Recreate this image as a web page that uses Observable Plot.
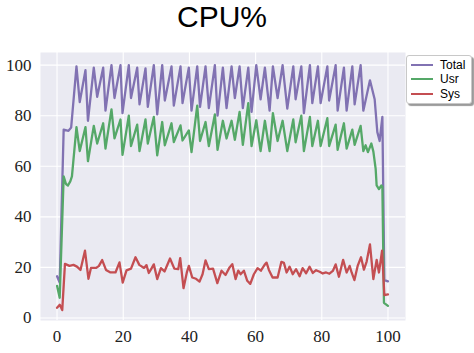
<!DOCTYPE html>
<html><head><meta charset="utf-8">
<script src="https://cdn.jsdelivr.net/npm/d3@7"></script>
<script src="https://cdn.jsdelivr.net/npm/@observablehq/plot@0.6"></script>
<style>
body{margin:0;background:#fff;}
#wrap{position:relative;width:474px;height:353px;overflow:hidden;}
#chart{position:absolute;left:0;top:0;}
#chart svg text{font-family:"Liberation Serif","DejaVu Serif",serif;}
#title{position:absolute;left:0;top:0;width:444px;text-align:center;font:30px "Liberation Sans",Arial,sans-serif;color:#000;}
#legend{position:absolute;left:406px;top:55px;width:64px;height:47px;background:#fff;border:1px solid #c8c8c8;border-radius:3px;box-shadow:2px 2px 1px #9a9a9a;font:12px "Liberation Sans",Arial,sans-serif;color:#000;}
.row{position:absolute;left:4px;height:14px;display:flex;align-items:center;}
.row svg{margin-right:7px;}
</style></head>
<body><div id="wrap"><div id="chart"></div><div id="title">CPU%</div><div id="legend"></div></div>
<script>
const seriesNames = ["Total", "Usr", "Sys"];
const seriesColors = ["#8172B2", "#55A868", "#C44E52"];
const xTicks = [0, 20, 40, 60, 80, 100];
const yTicks = [0, 20, 40, 60, 80, 100];

const totalX = [0,0.8,2.0,3.45,4.26,5.87,6.86,8.59,9.34,11.10,12.13,13.94,14.64,16.45,17.36,19.17,19.78,21.68,22.35,24.22,24.92,26.73,27.43,29.24,30.27,31.78,32.57,34.59,35.29,37.31,37.92,39.82,40.64,42.36,43.21,44.87,45.87,47.69,48.50,50.11,51.22,52.74,53.73,55.16,56.15,57.79,58.78,60.21,61.51,62.81,64.23,65.23,66.65,68.16,69.58,71.39,72.09,73.81,74.60,76.41,77.14,78.83,79.65,81.68,82.22,84.19,84.79,86.69,87.51,89.23,89.93,91.74,92.56,94.56,95.98,96.79,97.49,98.31,98.9,100];
const totalY = [16.5,14,74.5,74,75.3,99.5,85.4,98,78,99,87.5,99,82,100,87,100,81,100,87,99,84.5,98.7,83.5,100,80.5,100,86,99.5,84,99.5,85,99,82,99.5,83.5,99.5,83,100,80,99,83,99.5,87,99.5,83,99,81.5,100,86.5,99,82,99.5,87,100,82.8,99.5,86.5,99.5,81,100,85,99.5,85,99.5,86,100,82,99,82,99.5,84.5,100,82,94,86.5,73.5,70,79.5,15,14.5];

const usrX = [0,0.8,2.0,2.7,3.3,4.0,4.5,5.87,6.86,8.59,9.34,11.10,12.13,13.94,14.64,16.45,17.36,19.17,19.78,21.68,22.35,24.22,24.92,26.73,27.43,29.24,30.27,31.78,32.57,34.59,35.29,37.31,37.92,39.82,40.64,42.36,43.21,44.87,45.87,47.69,48.50,50.11,51.22,52.74,53.73,55.16,56.15,57.79,58.78,60.21,61.51,62.81,64.23,65.23,66.65,68.16,69.58,71.39,72.09,73.81,74.60,76.41,77.14,78.83,79.65,81.68,82.22,84.19,84.79,86.69,87.51,89.23,89.93,91.74,92.56,93.26,93.95,94.98,95.59,96.28,96.58,97.28,98.0,98.31,98.79,100];
const usrY = [12.7,8,56,53,52.4,54,56,75.5,66,75.5,62,76,69,77,67,82.5,71,78.5,64.5,80,68,76.5,66,78.5,69,79.5,64.3,77.5,68.3,77,69.6,76.2,70.2,74.2,65.6,84,70,77.5,68,80.5,66.5,78,71,78,70.5,81.5,68.5,85,68,78.2,66,78,66,81,70,78,66,78.5,69.5,80,66,79.5,68,78,68,79,68,76.5,66.5,77,67,74.5,68.5,76,66,68.3,65.6,69,65.8,59,52.4,51,52.4,52,6,4.8];

const sysX = [0,0.82,1.57,2.39,3.75,4.96,6.02,7.08,8.44,9.49,10.25,11.76,12.61,13.64,14.79,16.15,17.66,18.87,19.84,20.99,22.35,23.71,24.86,26.28,27.03,27.73,28.39,29.24,30.27,31.39,32.48,34.14,35.44,36.62,37.22,38.22,39.22,39.83,40.85,42.00,43.06,43.97,44.88,45.87,47.14,48.44,49.71,50.92,52.13,52.95,53.95,54.76,55.46,56.46,57.48,58.39,59.48,60.60,61.60,62.72,63.32,64.02,65.13,66.65,67.80,68.55,69.37,70.28,71.24,72.24,73.30,74.21,75.27,76.32,77.29,78.29,79.35,80.31,81.31,82.31,83.34,84.19,85.18,86.45,87.51,88.42,89.02,89.87,90.84,91.86,92.74,93.56,94.56,95.59,96.58,97.28,98.22,98.91,100];
const sysY = [4.0,5.2,3.1,21.4,20.6,21,20.3,19,26.6,15.5,19.8,19.8,20.5,22.9,19,18,18,22,14,18.8,19.5,24,21,19.8,20.9,17.8,19.2,21.2,15.4,19.7,18.4,23.5,19.5,19.3,23.7,11.8,18,20.6,16,15.5,14.4,17.3,22.8,19.3,19.5,13.8,18.7,17,20,21.3,15.4,18.7,17.3,18.7,14.7,13.5,17.3,19.7,18.7,21,21.9,19,16,16,22.2,21.8,18,20.3,17.3,19.3,16.5,19.7,17.7,20.3,17.8,18.9,18.3,17.6,18,17.5,18.6,21.2,16.3,23,18,20.6,18,15,20.6,24,19.1,22.3,29.1,15.4,23,18,26.6,9,9.3];

const seriesX = [totalX, usrX, sysX];
const seriesY = [totalY, usrY, sysY];
const rows = seriesNames.flatMap((name, k) => seriesX[k].map((x, i) => ({series: name, x, y: seriesY[k][i]})));

const serif = "'Liberation Serif', 'DejaVu Serif', serif";
const chart = Plot.plot({
  width: 474,
  height: 353,
  marginLeft: 40,
  marginRight: 69,
  marginTop: 52,
  marginBottom: 33,
  style: {fontFamily: serif, fontSize: "17px", background: "transparent", color: "#222"},
  x: {domain: [-5, 105.3]},
  y: {domain: [-1, 105]},
  color: {domain: seriesNames, range: seriesColors},
  marks: [
    Plot.frame({fill: "#EAEAF2", stroke: null}),
    Plot.gridX(xTicks, {stroke: "#fff", strokeOpacity: 1, strokeWidth: 1.1}),
    Plot.gridY(yTicks, {stroke: "#fff", strokeOpacity: 1, strokeWidth: 1.1}),
    Plot.line(rows, {x: "x", y: "y", z: "series", stroke: "series", strokeWidth: 2.3, strokeLinejoin: "round"}),
    Plot.axisX(xTicks, {tickSize: 0, tickPadding: 9, label: null, fontSize: 17, fontFamily: serif}),
    Plot.axisY(yTicks, {tickSize: 0, tickPadding: 9, label: null, fontSize: 17, fontFamily: serif})
  ]
});
document.getElementById("chart").appendChild(chart);

const legend = document.getElementById("legend");
seriesNames.forEach((name, k) => {
  const row = document.createElement("div");
  row.className = "row";
  row.style.top = (2 + k * 14.3) + "px";
  row.innerHTML = `<svg width="22" height="4"><line x1="0" x2="22" y1="2" y2="2" stroke="${seriesColors[k]}" stroke-width="2"/></svg><span>${name}</span>`;
  legend.appendChild(row);
});
</script>
</body></html>
